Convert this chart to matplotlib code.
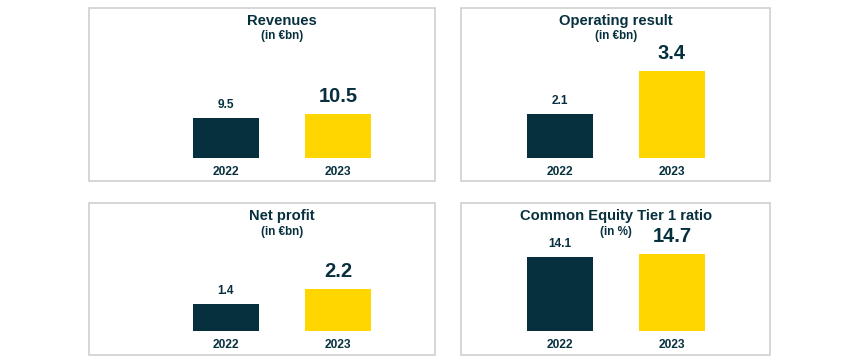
#!/usr/bin/env python3
"""Key figures 2022 vs 2023: four boxed mini bar charts."""

import matplotlib

matplotlib.use("Agg")
import matplotlib.pyplot as plt
from matplotlib.patches import Rectangle

# data
titles = ["Revenues", "Operating result", "Net profit", "Common Equity Tier 1 ratio"]
units = ["(in €bn)", "(in €bn)", "(in €bn)", "(in %)"]
years = ["2022", "2023"]
values_2022 = [9.5, 2.1, 1.4, 14.1]
values_2023 = [10.5, 3.4, 2.2, 14.7]

NAVY = "#07303e"
YELLOW = "#ffd600"
BORDER = "#cccccc"
W, H = 850, 364

plt.rcParams["font.family"] = ["Liberation Sans", "DejaVu Sans"]
plt.rcParams["font.weight"] = "bold"


def fig_rect(x0, y0, x1, y1):
    """Pixel box (top-left origin) -> figure fraction [left, bottom, width, height]."""
    return [x0 / W, 1 - y1 / H, (x1 - x0) / W, (y1 - y0) / H]


# panel layout in pixels: box (x0, y0, x1, y1), centre of bar pair, bar baseline,
# px per unit and lower y limit of the bar axes
boxes = [(89, 8, 435, 181), (461, 8, 770, 181), (89, 203, 435, 355), (461, 203, 770, 355)]
bar_mid = [282, 616, 282, 616]
baseline = [157.7, 157.7, 331.3, 331.3]
px_per_unit = [4.15, 33.3, 19.3, 5.25]
y_floor = [0.0, 0.79, 0.0, 0.0]

fig = plt.figure(figsize=(W / 100, H / 100), dpi=100)

for i, title in enumerate(titles):
    x0, y0, x1, y1 = boxes[i]
    fig.patches.append(
        Rectangle((x0 / W, 1 - y1 / H), (x1 - x0) / W, (y1 - y0) / H,
                  transform=fig.transFigure, fill=False, edgecolor=BORDER, linewidth=1.1)
    )

    ax_h = 100  # bar axes height in px
    ax = fig.add_axes(fig_rect(bar_mid[i] - 112, baseline[i] - ax_h, bar_mid[i] + 112, baseline[i]))
    ax.set_xlim(-0.5, 1.5)
    ax.set_ylim(y_floor[i], y_floor[i] + ax_h / px_per_unit[i])
    vals = [values_2022[i], values_2023[i]]
    ax.bar([0, 1], vals, width=0.594, color=[NAVY, YELLOW], bottom=0)
    ax.axis("off")

    ax.annotate(f"{vals[0]:.1f}", (0, vals[0]), xytext=(0, 9.4), textcoords="offset points",
                ha="center", va="center", fontsize=8.6, color=NAVY, fontweight="bold")
    ax.annotate(f"{vals[1]:.1f}", (1, vals[1]), xytext=(0, 12.6), textcoords="offset points",
                ha="center", va="center", fontsize=14.5, color=NAVY, fontweight="bold")
    for j, yr in enumerate(years):
        ax.annotate(yr, (j, y_floor[i]), xytext=(0, -10.2), textcoords="offset points",
                    ha="center", va="center", fontsize=8.6, color=NAVY, fontweight="bold",
                    annotation_clip=False)

    fig.text(bar_mid[i] / W, 1 - (y0 + 13) / H, title, ha="center", va="center",
             fontsize=10.6, color=NAVY, fontweight="bold")
    fig.text(bar_mid[i] / W, 1 - (y0 + 28.5) / H, units[i], ha="center", va="center",
             fontsize=8.4, color=NAVY, fontweight="bold")

fig.savefig("out.png", dpi=100, facecolor="white")
